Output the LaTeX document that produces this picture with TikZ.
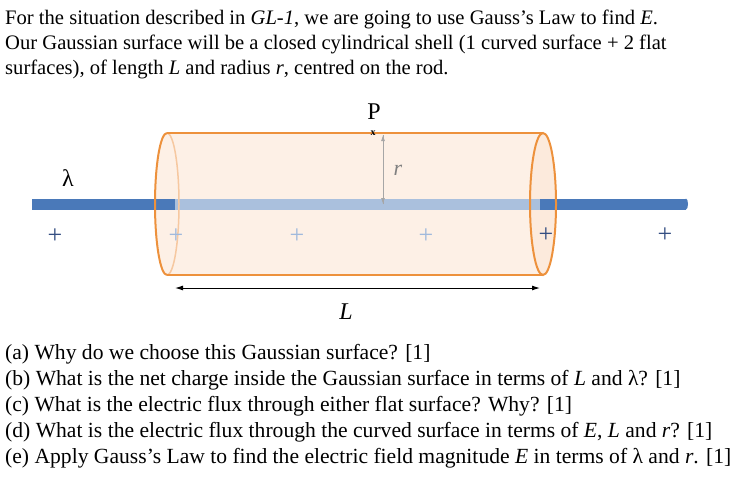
\documentclass[tikz,border=0pt]{standalone}
\usepackage{fontspec}
\usetikzlibrary{arrows.meta}
\setmainfont{Liberation Serif}
\begin{document}
\begin{tikzpicture}[x=1pt,y=-1pt,
  txt/.style={anchor=base west,font=\fontsize{20.6}{24}\selectfont,inner sep=0},
  qtxt/.style={anchor=base west,font=\fontsize{21.6}{24}\selectfont,inner sep=0},
  plusd/.style={text={rgb,255:red,52;green,78;blue,130},font=\fontsize{26}{26}\selectfont},
  plusl/.style={text={rgb,255:red,160;green,185;blue,220},font=\fontsize{26}{26}\selectfont}]
\useasboundingbox (0,0) rectangle (738,493);
\definecolor{rodd}{RGB}{74,121,185}
\definecolor{rodl}{RGB}{170,192,221}
\definecolor{peach}{RGB}{253,240,230}
\definecolor{orng}{RGB}{237,145,60}
\definecolor{orngl}{RGB}{246,200,160}
\node[txt] (t1) at (5,24) {For the situation described in \textit{GL-1}, we are going to use Gauss’s Law to find \textit{E}.};
\node[txt] (t2) at (5,49) {Our Gaussian surface will be a closed cylindrical shell (1 curved surface + 2 flat};
\node[txt] (t3) at (5,74) {surfaces), of length \textit{L} and radius \textit{r}, centred on the rod.};
% cylinder body
\fill[peach] (167,133) -- (543,133) -- (543,275) -- (167,275) arc[start angle=90,end angle=270,x radius=12,y radius=71] -- cycle;
\fill[peach!85!orngl] (543,204) ellipse[x radius=13,y radius=71];
% rod
\fill[rodd] (32,198.5) rectangle (175,209.5);
\fill[rodd] (686,204) ellipse[x radius=2,y radius=5.5];
\fill[rodl] (175,198.5) rectangle (540,209.5);
\fill[rodd] (540,198.5) rectangle (686,209.5);
% outlines
\draw[orngl,line width=1.5pt] (167,133) arc[start angle=-90,end angle=90,x radius=12,y radius=71];
\draw[orng,line width=2pt] (167,133) arc[start angle=-90,end angle=-270,x radius=12,y radius=71];
\draw[orng,line width=2pt] (167,133) -- (543,133) (167,275) -- (543,275);
\draw[orng,line width=2pt] (543,204) ellipse[x radius=13,y radius=71];
% P and r
\node (P) at (374,112) {\fontsize{24}{24}\selectfont P};
\node[inner sep=0,font=\fontsize{10}{10}\selectfont\bfseries] (px) at (373,133) {x};
\coordinate (rt) at (383,135);
\coordinate (rb) at (383,204);
\draw[gray!70,-{Latex[length=6pt,width=4pt]},line width=0.8pt] (rb) -- (rt);
\draw[gray!70,-{Latex[length=6pt,width=4pt]},line width=0.8pt] (rt) -- (rb);
\node[text=gray,font=\fontsize{22}{22}\selectfont\itshape] (r) at (398,170) {r};
\node[font=\fontsize{24}{24}\selectfont] (lam) at (68,178) {λ};
\node[plusd] (p1) at (55,236) {+};
\node[plusl] (p2) at (176,236) {+};
\node[plusl] (p3) at (297,236) {+};
\node[plusl] (p4) at (426,236) {+};
\node[plusd] (p5) at (546,235) {+};
\node[plusd] (p6) at (665,235) {+};
\coordinate (La) at (175,288);
\coordinate (Lb) at (540,288);
\draw[{Latex[length=8pt,width=5pt]}-{Latex[length=8pt,width=5pt]},line width=1pt] (La) -- (Lb);
\node[font=\fontsize{24}{24}\selectfont\itshape] (L) at (346,312) {L};
\node[qtxt] (q1) at (5,359) {(a) Why do we choose this Gaussian surface? [1]};
\node[qtxt] (q2) at (5,385) {(b) What is the net charge inside the Gaussian surface in terms of \textit{L} and λ? [1]};
\node[qtxt] (q3) at (5,411) {(c) What is the electric flux through either flat surface? Why? [1]};
\node[qtxt] (q4) at (5,437) {(d) What is the electric flux through the curved surface in terms of \textit{E}, \textit{L} and \textit{r}? [1]};
\node[qtxt] (q5) at (5,463) {(e) Apply Gauss’s Law to find the electric field magnitude \textit{E} in terms of λ and \textit{r}. [1]};
\end{tikzpicture}
\end{document}
